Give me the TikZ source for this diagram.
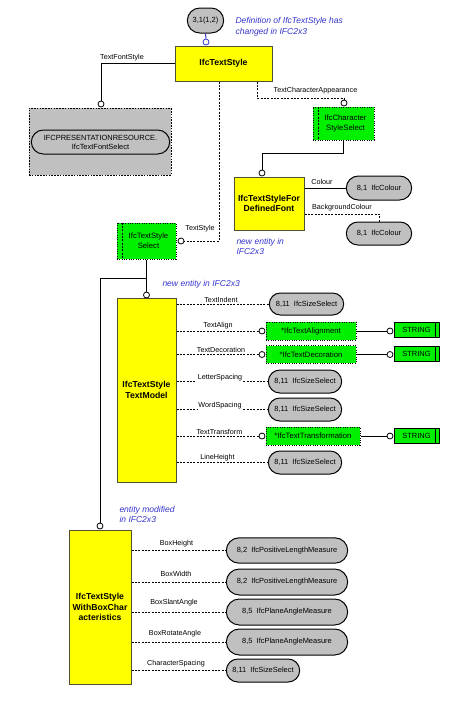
\documentclass[tikz,border=0pt]{standalone}
\usepackage{fontspec}
\setmainfont{Liberation Sans}
\usetikzlibrary{shapes.misc}

\definecolor{entyellow}{RGB}{255,255,0}
\definecolor{selgreen}{RGB}{0,240,0}
\definecolor{typegray}{RGB}{192,192,192}
\definecolor{noteblue}{RGB}{51,51,204}
\definecolor{boxedge}{RGB}{80,80,50}

\tikzset{every picture/.style={line width=0.75pt}}
\tikzset{
  entity/.style={draw=boxedge, fill=entyellow, align=center, inner sep=1pt,
    font=\fontsize{6.5}{7.8}\selectfont\bfseries},
  selbox/.style={draw, densely dotted, fill=selgreen, align=center, inner sep=1pt,
    font=\fontsize{5.8}{7.2}\selectfont},
  strbox/.style={draw, fill=selgreen, inner sep=1pt, minimum width=33.75pt,
    minimum height=11.25pt, font=\fontsize{5.6}{6.5}\selectfont},
  typepill/.style={rounded rectangle, draw, fill=typegray, align=center, inner sep=1pt,
    font=\fontsize{5.6}{6.8}\selectfont},
  extbox/.style={draw, dash pattern=on 1.2pt off 0.9pt, line width=0.6pt, fill=typegray},
  conn/.style={circle, draw, fill=white, inner sep=0pt, minimum size=4.5pt, line width=0.6pt},
  dashln/.style={dash pattern=on 1.5pt off 1pt, line width=0.6pt},
  attr/.style={fill=white, inner sep=0.5pt, font=\fontsize{5.4}{6}\selectfont},
  note/.style={text=noteblue, align=left, anchor=west, inner sep=0pt,
    font=\fontsize{6.4}{8}\selectfont\itshape}
}

\begin{document}
\begin{tikzpicture}[x=0.75pt,y=0.75pt,yscale=-1,xscale=1]
\useasboundingbox (0,0) rectangle (474,701);

% IfcTextStyle and its reference
\node[typepill, minimum width=29.25pt, minimum height=18.75pt] (ver) at (205.5,20.5) {3,1(1,2)};
\node[conn, draw=noteblue] (verc) at (206,42) {};
\node[entity, minimum width=72.75pt, minimum height=26.25pt] (ts) at (223.5,63.5) {IfcTextStyle};
\node[note] (note1) at (235,26.5) {Definition of IfcTextStyle has\\changed in IFC2x3};

% external font select
\node[extbox, minimum width=106.5pt, minimum height=50.25pt] (fontsel) at (100,141.5) {};
\node[typepill, minimum width=105.75pt, minimum height=18pt] (fontpill) at (100.5,142) {IFCPRESENTATIONRESOURCE.\\IfcTextFontSelect};
\node[conn] (fontc) at (101,104) {};

% character style select
\node[selbox, minimum width=45.75pt, minimum height=24.75pt] (charsel) at (343.5,123.5) {\hspace{3pt}IfcCharacter\\\hspace{3pt}StyleSelect};
\node[conn] (charc) at (344,103) {};

% defined font
\node[entity, minimum width=52.5pt, minimum height=39.75pt] (df) at (269,203.5) {IfcTextStyleFor\\DefinedFont};
\node[conn] (dfc) at (262,173) {};
\node[typepill, minimum width=51pt, minimum height=18pt] (colp) at (379,188) {8,1~ IfcColour};
\node[typepill, minimum width=51pt, minimum height=17.25pt] (bgp) at (379,233.5) {8,1~ IfcColour};
\node[note] (note2) at (236,246.5) {new entity in\\IFC2x3};

% text style select
\node[selbox, minimum width=44.25pt, minimum height=27pt] (tss) at (146.5,241) {\hspace{3pt}IfcTextStyle\\\hspace{3pt}Select};
\node[conn] (tssc) at (181,241) {};
\node[note] (note3) at (162,284) {new entity in IFC2x3};

% text model
\node[entity, minimum width=44.25pt, minimum height=138pt] (tm) at (146.5,390) {IfcTextStyle\\TextModel};
\node[conn] (tmc) at (146.5,295) {};
\node[typepill, minimum width=57.75pt, minimum height=16.5pt] (p1) at (306.5,304) {8,11~ IfcSizeSelect};
\node[selbox, minimum width=67.5pt, minimum height=13.5pt] (ta) at (311,331) {*IfcTextAlignment};
\node[conn] (tac) at (262,331) {};
\node[conn] (sc1) at (390,331) {};
\node[strbox] (s1) at (416.5,330) {STRING};
\node[selbox, minimum width=67.5pt, minimum height=13pt] (td) at (311,354.5) {*IfcTextDecoration};
\node[conn] (tdc) at (262,354.5) {};
\node[conn] (sc2) at (390,354.5) {};
\node[strbox] (s2) at (416.5,353.5) {STRING};
\node[typepill, minimum width=57pt, minimum height=17.25pt] (p4) at (305,381.5) {8,11~ IfcSizeSelect};
\node[typepill, minimum width=57pt, minimum height=17.25pt] (p5) at (305,409.5) {8,11~ IfcSizeSelect};
\node[selbox, minimum width=70.5pt, minimum height=13.5pt] (tt) at (313,436) {*IfcTextTransformation};
\node[conn] (ttc) at (262,436) {};
\node[conn] (sc3) at (390,436) {};
\node[strbox] (s3) at (416.5,435.5) {STRING};
\node[typepill, minimum width=57pt, minimum height=17.25pt] (p7) at (305,462.5) {8,11~ IfcSizeSelect};

% box characteristics
\node[note] (note4) at (119,514.5) {entity modified\\in IFC2x3};
\node[entity, minimum width=46.5pt, minimum height=115.5pt] (wb) at (100,607) {IfcTextStyle\\WithBoxChar\\acteristics};
\node[conn] (wbc) at (100,526) {};
\node[typepill, minimum width=93pt, minimum height=19pt] (bh) at (287,550.5) {8,2~ IfcPositiveLengthMeasure};
\node[typepill, minimum width=93pt, minimum height=19.5pt] (bw) at (287,582) {8,2~ IfcPositiveLengthMeasure};
\node[typepill, minimum width=93pt, minimum height=19.5pt] (bs) at (287,612) {8,5~ IfcPlaneAngleMeasure};
\node[typepill, minimum width=93pt, minimum height=19.5pt] (br) at (287,642) {8,5~ IfcPlaneAngleMeasure};
\node[typepill, minimum width=57pt, minimum height=17.25pt] (cs) at (263,670.5) {8,11~ IfcSizeSelect};

% inner marks of the select and string boxes
\draw[dashln] ([xshift=4.5pt]charsel.north west) -- ([xshift=4.5pt]charsel.south west);
\draw[dashln] ([xshift=4.5pt]tss.north west) -- ([xshift=4.5pt]tss.south west);
\draw ([xshift=-3pt]s1.north east) -- ([xshift=-3pt]s1.south east);
\draw ([xshift=-3pt]s2.north east) -- ([xshift=-3pt]s2.south east);
\draw ([xshift=-3pt]s3.north east) -- ([xshift=-3pt]s3.south east);

% connectors
\draw[noteblue] (ver.south) -- (verc.north);
\draw (ts.west) -| (fontc.north);
\coordinate (tcabend) at (257,98);
\draw[dashln] (tcabend |- ts.south) -- (tcabend) -| (charc.north);
\draw (charsel.south) -- ++(0,13) -| (dfc.north);
\draw (colp.west -| df.east) -- (colp.west);
\coordinate (bgbend) at (379,214);
\draw[dashln] (bgbend -| df.east) -- (bgbend) -- (bgp.north);
\coordinate (tsbend) at (219,241);
\draw[dashln] (tsbend |- ts.south) -- (tsbend) -- (tssc.east);
\draw (tss.south) -- (tmc.north);
\coordinate (brj) at (146.5,278);
\draw (brj) -| (wbc.north);

% text model attributes
\draw[dashln] (p1.west -| tm.east) -- (p1.west);
\draw[dashln] (tac.west -| tm.east) -- (tac.west);
\draw (ta.east) -- (sc1.west);
\draw[dashln] (tdc.west -| tm.east) -- (tdc.west);
\draw (td.east) -- (sc2.west);
\draw[dashln] (p4.west -| tm.east) -- (p4.west);
\draw[dashln] (p5.west -| tm.east) -- (p5.west);
\draw[dashln] (ttc.west -| tm.east) -- (ttc.west);
\draw (tt.east) -- (sc3.west);
\draw[dashln] (p7.west -| tm.east) -- (p7.west);

% box attributes
\draw[dashln] (bh.west -| wb.east) -- (bh.west);
\draw[dashln] (bw.west -| wb.east) -- (bw.west);
\draw[dashln] (bs.west -| wb.east) -- (bs.west);
\draw[dashln] (br.west -| wb.east) -- (br.west);
\draw[dashln] (cs.west -| wb.east) -- (cs.west);

% Text Node
\node[attr] (lfont) at (122,58) {TextFontStyle};
\node[attr] (lchar) at (315.5,91) {TextCharacterAppearance};
\node[attr] (lstyle) at (200,229) {TextStyle};
\node[attr] (lcol) at (322,182) {Colour};
\node[attr] (lbg) at (342,208) {BackgroundColour};
\node[attr] (lind) at (221,300) {TextIndent};
\node[attr] (lali) at (218,326) {TextAlign};
\node[attr] (ldec) at (221,350) {TextDecoration};
\node[attr] (llet) at (220,378) {LetterSpacing};
\node[attr] (lword) at (220,406) {WordSpacing};
\node[attr] (ltra) at (219.5,432) {TextTransform};
\node[attr] (llin) at (217.5,458) {LineHeight};
\node[attr] (lbh) at (176.5,544) {BoxHeight};
\node[attr] (lbw) at (176,574) {BoxWidth};
\node[attr] (lbs) at (174,603) {BoxSlantAngle};
\node[attr] (lbr) at (175,634) {BoxRotateAngle};
\node[attr] (lcs) at (176,664) {CharacterSpacing};

\end{tikzpicture}
\end{document}
